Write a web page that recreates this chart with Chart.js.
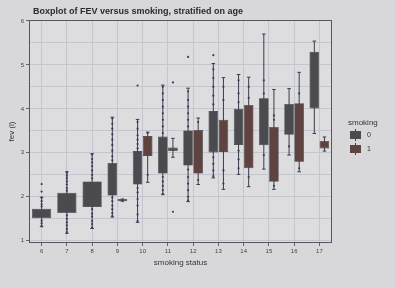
<!DOCTYPE html>
<html>
<head>
<meta charset="utf-8">
<script src="https://cdn.jsdelivr.net/npm/chart.js@4.4.0/dist/chart.umd.min.js"></script>
<style>
  html, body { margin: 0; padding: 0; background: #d8d8da; }
  canvas { display: block; }
</style>
</head>
<body>
<canvas id="fevChart" width="395" height="288"></canvas>
<script>
// age groups on the x axis
const ages = [6, 7, 8, 9, 10, 11, 12, 13, 14, 15, 16, 17];
// y grid positions (labels only on whole numbers)
const yTicks = [1, 1.5, 2, 2.5, 3, 3.5, 4, 4.5, 5, 5.5, 6];

// smoking = 0 : whisker ends and box (q1..q3)
const whiskerLow0  = [1.32, 1.17, 1.28, 1.54, 1.42, 2.05, 1.89, 2.43, 2.51, 2.63, 2.95, 3.44];
const boxLow0      = [1.51, 1.63, 1.77, 2.03, 2.28, 2.53, 2.71, 3.01, 3.18, 3.17, 3.41, 4.01];
const boxHigh0     = [1.73, 2.09, 2.35, 2.77, 3.04, 3.37, 3.51, 3.95, 4.00, 4.24, 4.11, 5.30];
const whiskerHigh0 = [1.99, 2.57, 2.98, 3.81, 3.76, 4.54, 4.47, 5.03, 4.78, 5.70, 4.46, 5.54];

// smoking = 1 : no smokers below age 9
const whiskerLow1  = [null, null, null, 1.90, 2.33, 2.90, 2.28, 2.17, 2.23, 2.17, 2.57, 3.04];
const boxLow1      = [null, null, null, 1.90, 2.93, 3.04, 2.53, 3.02, 2.65, 2.34, 2.80, 3.10];
const boxHigh1     = [null, null, null, 1.95, 3.38, 3.12, 3.52, 3.75, 4.09, 3.59, 4.13, 3.27];
const whiskerHigh1 = [null, null, null, 1.95, 3.47, 3.33, 3.79, 4.71, 4.72, 4.44, 4.83, 3.36];

// single observations drawn as dots
const dots0 = [
  [2.29, 2.12, 1.98, 1.90, 1.83, 1.78, 1.46, 1.40, 1.34],
  [2.55, 2.48, 2.42, 2.35, 2.28, 2.20, 2.14, 1.58, 1.50, 1.42, 1.35, 1.27, 1.20],
  [2.96, 2.86, 2.78, 2.70, 2.60, 2.50, 2.42, 1.72, 1.62, 1.55, 1.45, 1.38, 1.30],
  [3.78, 3.66, 3.55, 3.42, 3.30, 3.18, 3.05, 2.92, 2.83, 1.98, 1.90, 1.80, 1.72, 1.63, 1.56],
  [4.53, 3.70, 3.55, 3.40, 3.30, 3.20, 3.10, 2.20, 2.10, 1.95, 1.80, 1.60, 1.45],
  [4.50, 4.35, 4.20, 4.05, 3.90, 3.75, 3.60, 3.45, 2.45, 2.35, 2.25, 2.15, 2.07],
  [5.18, 4.40, 4.20, 4.05, 3.90, 3.75, 3.60, 2.62, 2.45, 2.30, 2.15, 2.00, 1.92],
  [5.22, 4.90, 4.70, 4.50, 4.30, 4.10, 2.90, 2.75, 2.60, 2.47],
  [4.65, 4.35, 4.15, 3.05, 2.85, 2.65],
  [4.65, 4.35, 2.95],
  [3.15],
  []
];
const dots1 = [
  [], [], [],
  [1.92],
  [3.45, 2.50],
  [4.60, 1.66],
  [3.70, 2.38],
  [4.50, 4.20, 2.60, 2.30],
  [4.50, 4.25, 2.45],
  [3.85, 3.75, 2.25],
  [4.35, 2.65],
  []
];

const groupLabels = ['0', '1'];
const groupColors = ['#4b4a4e', '#5e4340'];
const lineColor = '#383a4a';

// box centre: dodged when both groups are present
function centre(i, g) {
  if (boxLow1[i] == null) return ages[i];
  return ages[i] + (g === 0 ? -0.2 : 0.2);
}

function boxData(lo, hi) {
  return ages.map((a, i) => ({ x: a, y: lo[i] == null ? null : [lo[i], hi[i]] }));
}

function whiskerData(lo, hi, g) {
  const out = [];
  ages.forEach((a, i) => {
    if (lo[i] == null) return;
    const c = centre(i, g);
    out.push({ x: c, y: lo[i] }, { x: c, y: hi[i] }, { x: c, y: null });
    out.push({ x: c - 0.07, y: hi[i] }, { x: c + 0.07, y: hi[i] }, { x: c, y: null });
    out.push({ x: c - 0.07, y: lo[i] }, { x: c + 0.07, y: lo[i] }, { x: c, y: null });
  });
  return out;
}

function dotData(dots, g) {
  const out = [];
  dots.forEach((vals, i) => vals.forEach(v => out.push({ x: centre(i, g), y: v })));
  return out;
}

const chartFont = '"Liberation Sans", Arial, sans-serif';

const panelPlugin = {
  id: 'panel',
  beforeDraw(chart) {
    const { ctx, chartArea: a } = chart;
    ctx.save();
    ctx.fillStyle = '#d8d8da';
    ctx.fillRect(0, 0, chart.width, chart.height);
    ctx.fillStyle = '#dddddf';
    ctx.fillRect(a.left, a.top, a.right - a.left, a.bottom - a.top);
    ctx.restore();
  },
  afterDraw(chart) {
    const { ctx, chartArea: a } = chart;
    ctx.save();
    ctx.strokeStyle = '#55565c';
    ctx.lineWidth = 1;
    ctx.strokeRect(a.left + 0.5, a.top + 0.5, a.right - a.left - 1, a.bottom - a.top - 1);

    // title
    ctx.fillStyle = '#2b2b2e';
    ctx.font = 'bold 9px ' + chartFont;
    ctx.textBaseline = 'middle';
    ctx.fillText('Boxplot of FEV versus smoking, stratified on age', a.left + 4, 12);

    // legend
    const lx = a.right + 18;
    ctx.font = '8px ' + chartFont;
    ctx.fillStyle = '#333';
    ctx.fillText('smoking', lx - 2, 123);
    groupLabels.forEach((lab, g) => {
      const y = 135 + g * 14;
      ctx.strokeStyle = lineColor;
      ctx.beginPath();
      ctx.moveTo(lx + 5.5, y - 6);
      ctx.lineTo(lx + 5.5, y + 6);
      ctx.stroke();
      ctx.fillStyle = groupColors[g];
      ctx.fillRect(lx, y - 4, 11, 8);
      ctx.fillStyle = '#333';
      ctx.font = '7px ' + chartFont;
      ctx.fillText(lab, lx + 17, y);
    });
    ctx.restore();
  }
};

const datasets = [];
[[boxLow0, boxHigh0], [boxLow1, boxHigh1]].forEach((b, g) => {
  datasets.push({
    type: 'bar',
    label: groupLabels[g],
    data: boxData(b[0], b[1]),
    backgroundColor: groupColors[g],
    borderColor: '#303033',
    borderWidth: 0.6,
    borderSkipped: false,
    skipNull: true,
    categoryPercentage: 0.8,
    barPercentage: 0.95,
    order: 0
  });
});
[[whiskerLow0, whiskerHigh0], [whiskerLow1, whiskerHigh1]].forEach((w, g) => {
  datasets.push({
    type: 'line',
    data: whiskerData(w[0], w[1], g),
    borderColor: lineColor,
    borderWidth: 1,
    pointRadius: 0,
    spanGaps: false,
    tension: 0,
    order: 1
  });
});
[dots0, dots1].forEach((d, g) => {
  datasets.push({
    type: 'line',
    data: dotData(d, g),
    showLine: false,
    pointRadius: 1.1,
    pointBorderWidth: 0,
    pointBackgroundColor: '#3a3f5c',
    order: 2
  });
});

new Chart(document.getElementById('fevChart'),
{
    type: 'bar',
    data: { datasets: datasets },
    options:
    {
        responsive: false,
        animation: false,
        layout: { padding: { top: 20, right: 63, left: 0, bottom: 0 } },
        scales:
        {
            x:
            {
                type: 'linear',
                min: 5.5,
                max: 17.5,
                offset: false,
                afterBuildTicks: s => { s.ticks = ages.map(v => ({ value: v })); },
                afterFit: s => { s.height = 45; },
                ticks: { font: { size: 6, family: chartFont }, color: '#444', padding: 2, autoSkip: false },
                grid: { color: '#c3c6cf', offset: false, tickLength: 3, tickColor: '#666' },
                border: { display: false },
                title:
                {
                    display: true,
                    text: 'smoking status',
                    color: '#333',
                    font: { size: 8, family: chartFont },
                    padding: { top: 0, bottom: 20 }
                }
            },
            y:
            {
                min: 0.95,
                max: 6.02,
                afterBuildTicks: s => { s.ticks = yTicks.map(v => ({ value: v })); },
                afterFit: s => { s.width = 29; },
                ticks:
                {
                    font: { size: 6, family: chartFont },
                    color: '#444',
                    padding: 2,
                    autoSkip: false,
                    callback: v => Number.isInteger(v) ? v : ''
                },
                grid:
                {
                    color: '#c3c6cf',
                    tickLength: 3,
                    tickColor: c => Number.isInteger(c.tick.value) ? '#666' : 'rgba(0,0,0,0)'
                },
                border: { display: false },
                title:
                {
                    display: true,
                    text: 'fev (l)',
                    color: '#333',
                    font: { size: 8, family: chartFont },
                    padding: { top: 7, bottom: 0 }
                }
            }
        },
        plugins:
        {
            legend: { display: false },
            tooltip: { enabled: false }
        }
    },
    plugins: [panelPlugin]
});
</script>
</body>
</html>
